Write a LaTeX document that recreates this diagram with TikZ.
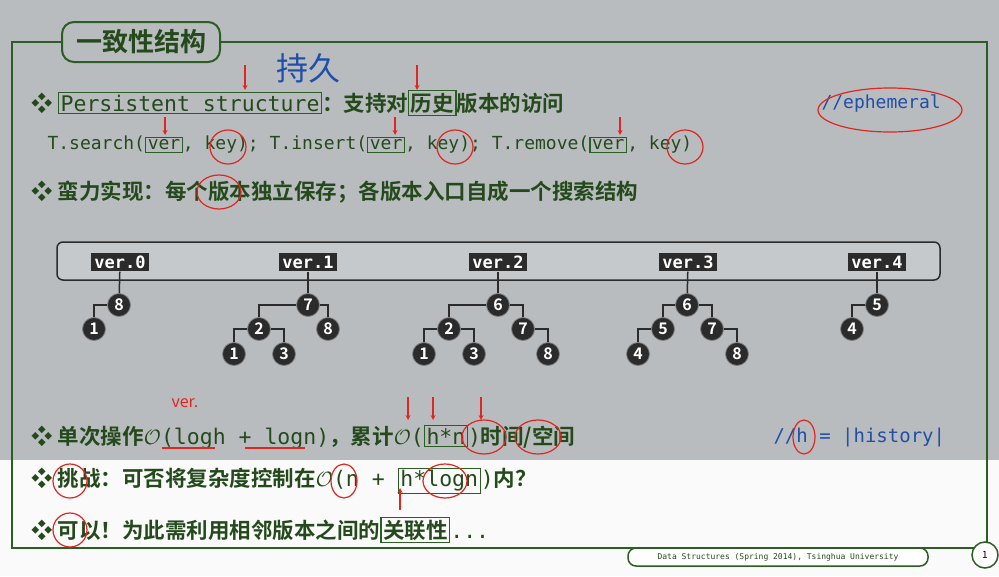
\documentclass[tikz,border=0pt]{standalone}
\usepackage{fontspec}
\setmainfont{Noto Sans CJK SC}[BoldFont={Noto Sans CJK SC Bold}]
\setmonofont{DejaVu Sans Mono}
\usetikzlibrary{positioning,backgrounds}
\definecolor{grn}{HTML}{2A5E22}
\definecolor{txt}{HTML}{244A1C}
\definecolor{bar}{HTML}{2B2B2B}
\definecolor{annot}{HTML}{E0261E}
\definecolor{ink}{HTML}{1F4FA8}
\definecolor{dim}{HTML}{B9BCBF}
\definecolor{barbg}{HTML}{C6C9CC}
\newcommand{\bx}[1]{{\setlength\fboxsep{1.5pt}\setlength\fboxrule{1.2pt}\color{grn}\fbox{\color{txt}#1}}}
\newcommand{\bigO}{\ensuremath{\mathcal{O}}}
\tikzset{
	line/.style={anchor=west,text=txt,font=\fontsize{21.5}{24}\selectfont\bfseries},
	code/.style={anchor=west,text=txt,font=\fontsize{18}{20}\selectfont\ttfamily},
	ver/.style={fill=bar,text=white,inner sep=3pt,font=\fontsize{17}{19}\selectfont\ttfamily\bfseries},
	key/.style={circle,fill=bar,draw=gray,thick,text=white,inner sep=0pt,minimum size=23pt,font=\fontsize{16}{17}\selectfont\bfseries},
	edge/.style={draw=bar,line width=1.5pt},
	pen/.style={annot,line width=1.2pt,-stealth}
}
\begin{document}
\begin{tikzpicture}[x=1pt,y=-1pt]
\useasboundingbox (0,0) rectangle (999,576);
\begin{scope}[on background layer]
\fill[dim] (0,0) rectangle (999,460);
\fill[white!96!gray] (0,460) rectangle (999,576);
\end{scope}
% frame and title
\draw[grn,line width=2pt] (12,42) rectangle (987,548);
\node[draw=grn,line width=2pt,rounded corners=12pt,fill=dim,minimum width=158pt,minimum height=40pt,text=txt,font=\fontsize{26}{28}\selectfont\bfseries] (title) at (141,42) {一致性结构};

% text lines
\node[line] (l1) at (28,103) {❖ \bx{\mdseries\ttfamily Persistent structure}：支持对\bx{历史}版本的访问};
\node[code] (l2) at (44,145) {T.search(\bx{ver}, key); T.insert(\bx{ver}, key); T.remove(\bx{ver}, key)};
\node[anchor=west,text=ink,font=\fontsize{18}{20}\selectfont\ttfamily] (eph) at (818,103) {//ephemeral};
\node[line] (l3) at (28,192) {❖ 蛮力实现：每个版本独立保存；各版本入口自成一个搜索结构};

% version bar
\draw[bar,line width=1.5pt,rounded corners=6pt,fill=barbg] (57,242) rectangle (940,280);

% trees
\node[key] (a8) at (119,305) {8};
\node[key] (a1) at (94,329) {1};
\node[key] (b7) at (308,305) {7};
\node[key] (b2) at (259,329) {2};
\node[key] (b8) at (328,329) {8};
\node[key] (b1) at (234,354) {1};
\node[key] (b3) at (284,354) {3};
\node[key] (c6) at (498,305) {6};
\node[key] (c2) at (449,329) {2};
\node[key] (c7) at (523,329) {7};
\node[key] (c1) at (424,354) {1};
\node[key] (c3) at (474,354) {3};
\node[key] (c8) at (548,354) {8};
\node[key] (d6) at (687,305) {6};
\node[key] (d5) at (663,329) {5};
\node[key] (d7) at (712,329) {7};
\node[key] (d4) at (638,354) {4};
\node[key] (d8) at (737,354) {8};
\node[key] (e5) at (877,305) {5};
\node[key] (e4) at (852,329) {4};
\foreach \i/\x/\r in {0/120/a8,1/308/b7,2/498/c6,3/688/d6,4/877/e5}{
	\node[ver] (v\i) at (\x,262) {ver.\i};
	\draw[edge] (v\i) -- (\r);
}
\begin{scope}[on background layer]
\foreach \p/\c in {a8/a1,b7/b2,b7/b8,b2/b1,b2/b3,c6/c2,c6/c7,c2/c1,c2/c3,c7/c8,d6/d5,d6/d7,d5/d4,d7/d8,e5/e4}
	\draw[edge] (\p.center) -| (\c.north);
\end{scope}

% lower lines
\node[line] (l4) at (28,437) {❖ 单次操作\bigO{\mdseries\ttfamily(logh + logn)}，累计\bigO{\mdseries\ttfamily(\bx{h*n})}时间/空间};
\node[anchor=west,text=ink,font=\fontsize{19}{20}\selectfont\ttfamily] (hist) at (770,437) {//h = |history|};
\node[line] (l5) at (28,481) {❖ 挑战：可否将复杂度控制在\bigO{\mdseries\ttfamily(n + \bx{h*logn})}内？};
\node[line] (l6) at (28,530) {❖ 可以！为此需利用相邻版本之间的\bx{关联性}{\mdseries\ttfamily...}};

% footer
\node[draw=grn,line width=1.5pt,rounded corners=8pt,fill=white,text=txt,font=\fontsize{8}{9}\selectfont\ttfamily,minimum width=300pt,minimum height=18pt] (foot) at (778,557) {Data Structures (Spring 2014), Tsinghua University};
\node[draw=grn,line width=1.5pt,circle,fill=white,minimum size=26pt,font=\itshape] (pg) at (985,555) {1};

% annotations
\node[text=ink,font=\fontsize{32}{34}\selectfont] (chi) at (308,68) {持久};
\node[text=annot,font=\fontsize{16}{18}\selectfont\itshape] (vr) at (185,403) {ver.};
\coordinate (m1) at (245,65); \coordinate (m1e) at (245,90);
\coordinate (m2) at (417,65); \coordinate (m2e) at (417,90);
\draw[pen] (m1) -- (m1e); \draw[pen] (m2) -- (m2e);
\foreach \x in {165,395,620} {\draw[pen] (\x,117) -- (\x,135);}
\foreach \x in {408,433,481} {\draw[pen] (\x,397) -- (\x,420);}
\draw[pen] (400,510) -- (400,488);
\draw[annot,line width=1.2pt] (890,110) ellipse (72pt and 22pt);
\foreach \x/\y/\r in {228/147/18,455/147/18,685/147/18,219/192/22,484/437/22,538/437/23,804/437/11,70/481/17,344/481/13,445/481/22,70/530/17}
	\draw[annot,line width=1.2pt] (\x,\y) ellipse (\r pt and 17pt);
\draw[annot,line width=1.2pt] (162,448) -- (215,448); \draw[annot,line width=1.2pt] (245,448) -- (305,448);
\end{tikzpicture}
\end{document}
